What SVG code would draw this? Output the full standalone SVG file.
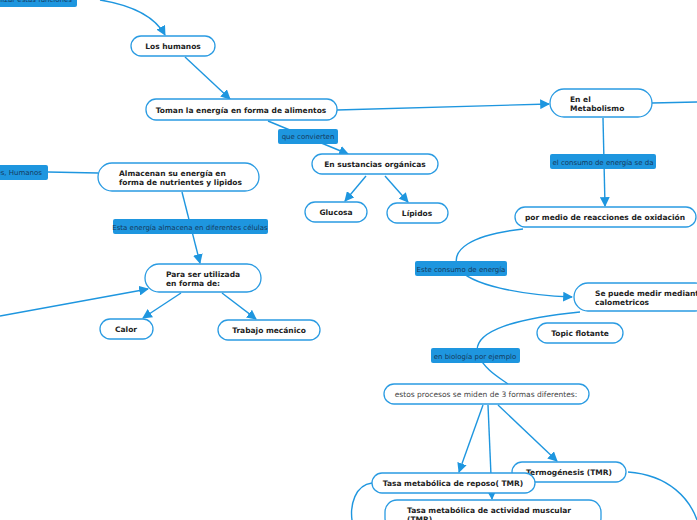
<svg xmlns="http://www.w3.org/2000/svg" width="697" height="520" viewBox="0 0 697 520">
<style>
.n rect{fill:#fff;stroke:#2a9be2;stroke-width:1.3}
.n text{font-family:"DejaVu Sans",sans-serif;font-size:7.5px;font-weight:bold;fill:#222}
.n text.r{font-weight:normal;fill:#444}
.l rect{fill:#1e96df;stroke:none}
.l text{font-family:"DejaVu Sans",sans-serif;font-size:7px;fill:#153a5c}
#c path{fill:none;stroke:#1e96df;stroke-width:1.4}
</style>
<defs><marker id="a" viewBox="0 0 10 10" refX="9" refY="5" markerWidth="7" markerHeight="7" orient="auto"><path d="M0,0L10,5L0,10z" fill="#1e96df"/></marker></defs>
<rect width="697" height="520" fill="#fff"/>
<g id="c">
<path d="M100,0 Q150,8 165,35" marker-end="url(#a)"/>
<path d="M185,57 L230,99" marker-end="url(#a)"/>
<path d="M337,110 L549,104" marker-end="url(#a)"/>
<path d="M652,103 L697,102"/>
<path d="M268,121 L348,154" marker-end="url(#a)"/>
<path d="M366,176 L345,201" marker-end="url(#a)"/>
<path d="M385,176 L408,202" marker-end="url(#a)"/>
<path d="M603,118 L605,206" marker-end="url(#a)"/>
<path d="M523,229 C470,235 450,250 458,268 C470,285 520,295 572,297" marker-end="url(#a)"/>
<path d="M580,312 C520,318 470,330 478,355 C485,370 500,378 508,384"/>
<path d="M483,405 L459,472" marker-end="url(#a)"/>
<path d="M488,405 L492,499" marker-end="url(#a)"/>
<path d="M498,405 L557,461" marker-end="url(#a)"/>
<path d="M628,472 C670,475 690,500 697,520"/>
<path d="M372,483 C355,485 350,505 352,520"/>
<path d="M48,172 L98,173"/>
<path d="M182,192 L200,263" marker-end="url(#a)"/>
<path d="M0,316 L148,289" marker-end="url(#a)"/>
<path d="M181,293 L143,318" marker-end="url(#a)"/>
<path d="M222,293 L256,319" marker-end="url(#a)"/>
</g>
<g id="l1" class="l"><rect x="-60" y="-8" width="137" height="15" rx="2"/><text x="72" y="2" text-anchor="end">realizar estas funciones</text></g>
<g id="l2" class="l"><rect x="-40" y="165" width="88" height="15" rx="2"/><text x="42" y="175" text-anchor="end">Animales, Humanos</text></g>
<g id="l3" class="l"><rect x="278" y="129" width="60" height="15" rx="2"/><text x="308" y="139" text-anchor="middle">que  convierten</text></g>
<g id="l4" class="l"><rect x="113" y="219" width="155" height="15" rx="2"/><text x="190" y="229.5" text-anchor="middle">Esta energía almacena en diferentes células</text></g>
<g id="l5" class="l"><rect x="550" y="154" width="106" height="15" rx="2"/><text x="603" y="164.5" text-anchor="middle">el consumo de energía se da</text></g>
<g id="l6" class="l"><rect x="415" y="261" width="92" height="15" rx="2"/><text x="461" y="271.5" text-anchor="middle">Este consumo de energía</text></g>
<g id="l7" class="l"><rect x="431" y="348" width="89" height="15" rx="2"/><text x="475" y="358.5" text-anchor="middle">en biología por ejemplo</text></g>
<g id="n1" class="n"><rect x="131" y="36" width="84" height="20" rx="10"/><text x="173" y="49" text-anchor="middle">Los humanos</text></g>
<g id="n2" class="n"><rect x="146" y="99" width="191" height="21" rx="10"/><text x="241" y="113" text-anchor="middle">Toman la energía en forma de alimentos</text></g>
<g id="n3" class="n"><rect x="312" y="154" width="126" height="20" rx="10"/><text x="375" y="167" text-anchor="middle">En sustancias orgánicas</text></g>
<g id="n4" class="n"><rect x="305" y="202" width="62" height="20" rx="10"/><text x="336" y="215" text-anchor="middle">Glucosa</text></g>
<g id="n5" class="n"><rect x="387" y="203" width="61" height="20" rx="10"/><text x="417" y="216" text-anchor="middle">Lípidos</text></g>
<g id="n6" class="n"><rect x="550" y="89" width="102" height="28" rx="14"/><text x="570" y="102">En el</text><text x="570" y="111">Metabolismo</text></g>
<g id="n7" class="n"><rect x="515" y="207" width="181" height="20" rx="10"/><text x="605" y="220" text-anchor="middle">por medio de reacciones de oxidación</text></g>
<g id="n8" class="n"><rect x="574" y="283" width="135" height="28" rx="14"/><text x="595" y="296">Se puede medir mediante</text><text x="595" y="305">calometricos</text></g>
<g id="n9" class="n"><rect x="537" y="323" width="86" height="20" rx="10"/><text x="580" y="336" text-anchor="middle">Topic flotante</text></g>
<g id="n10" class="n"><rect x="384" y="384" width="205" height="20" rx="10"/><text class="r" x="486" y="397" text-anchor="middle">estos procesos se miden de 3 formas diferentes:</text></g>
<g id="n11" class="n"><rect x="512" y="462" width="114" height="20" rx="10"/><text x="569" y="475" text-anchor="middle">Termogénesis (TMR)</text></g>
<g id="n12" class="n"><rect x="372" y="473" width="163" height="20" rx="10"/><text x="453" y="486" text-anchor="middle">Tasa metabólica de reposo( TMR)</text></g>
<g id="n13" class="n"><rect x="385" y="500" width="216" height="30" rx="12"/><text x="407" y="513">Tasa metabólica de actividad muscular</text><text x="407" y="522">(TMR)</text></g>
<g id="n14" class="n"><rect x="98" y="163" width="161" height="28" rx="14"/><text x="119" y="176">Almacenan su energía en</text><text x="119" y="185">forma de nutrientes y lipidos</text></g>
<g id="n15" class="n"><rect x="145" y="264" width="116" height="28" rx="14"/><text x="166" y="277">Para ser utilizada</text><text x="166" y="286">en forma de:</text></g>
<g id="n16" class="n"><rect x="100" y="319" width="53" height="20" rx="10"/><text x="126" y="332" text-anchor="middle">Calor</text></g>
<g id="n17" class="n"><rect x="218" y="320" width="102" height="20" rx="10"/><text x="269" y="333" text-anchor="middle">Trabajo mecánico</text></g>
</svg>
